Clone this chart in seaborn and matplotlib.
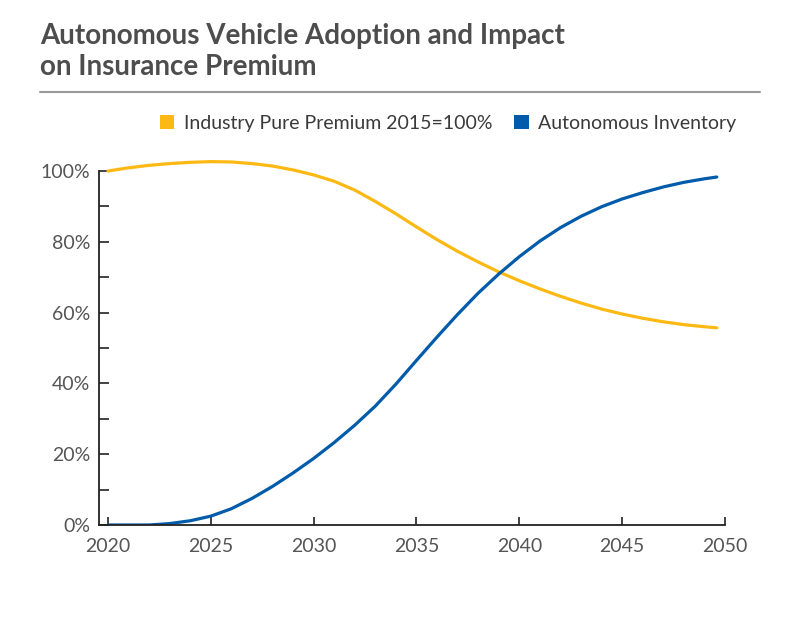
import pandas as pd
import matplotlib
matplotlib.use("Agg")
import matplotlib.pyplot as plt
import seaborn as sns
from matplotlib.patches import Patch
from matplotlib.lines import Line2D
from matplotlib.ticker import MultipleLocator, PercentFormatter

# values (percent)
years = [2020, 2021, 2022, 2023, 2024, 2025, 2026, 2027, 2028, 2029,
         2030, 2031, 2032, 2033, 2034, 2035, 2036, 2037, 2038, 2039,
         2040, 2041, 2042, 2043, 2044, 2045, 2046, 2047, 2048, 2049, 2049.6]
premium = [100.0, 100.9, 101.6, 102.1, 102.45, 102.65, 102.55, 102.1, 101.4, 100.3,
           98.9, 97.1, 94.6, 91.4, 87.9, 84.2, 80.6, 77.3, 74.3, 71.5,
           69.0, 66.7, 64.6, 62.7, 61.0, 59.6, 58.4, 57.4, 56.6, 56.0, 55.7]
autonomous = [0.0, 0.0, 0.0, 0.4, 1.2, 2.5, 4.6, 7.5, 10.9, 14.7,
              18.8, 23.3, 28.2, 33.6, 39.8, 46.5, 53.1, 59.5, 65.5, 70.9,
              75.8, 80.2, 84.0, 87.2, 89.9, 92.1, 93.9, 95.5, 96.8, 97.8, 98.3]
series = ["Industry Pure Premium 2015=100%", "Autonomous Inventory"]
colors = ["#FDB913", "#005BAA"]
title = "Autonomous Vehicle Adoption and Impact\non Insurance Premium"

df = pd.DataFrame({
    "Year": years + years,
    "Share": premium + autonomous,
    "Series": [series[0]] * len(years) + [series[1]] * len(years),
})

sns.set_theme(style="white")
plt.rcParams["font.family"] = ["Lato", "DejaVu Sans"]

fig = plt.figure(figsize=(8, 6.24), dpi=100)
ax = fig.add_axes([98.5 / 800, 99 / 624, 626.5 / 800, 371.7 / 624])

sns.lineplot(data=df, x="Year", y="Share", hue="Series", hue_order=series,
             palette=colors, linewidth=2.3, ax=ax, legend=False)

ax.set_xlim(2019.54, 2050)
ax.set_ylim(0, 105)
ax.set_xticks(range(2020, 2051, 5))
ax.yaxis.set_major_locator(MultipleLocator(20))
ax.yaxis.set_minor_locator(MultipleLocator(10))
ax.yaxis.set_major_formatter(PercentFormatter(100, decimals=0))
ax.set_yticks([v for v in range(0, 101, 20)])
ax.set_xlabel("")
ax.set_ylabel("")

for s in ["top", "right"]:
    ax.spines[s].set_visible(False)
for s in ["left", "bottom"]:
    ax.spines[s].set_color("#222222")
    ax.spines[s].set_linewidth(1.3)
ax.spines["left"].set_bounds(0, 100)

ax.tick_params(axis="y", which="both", direction="in", length=7.2, width=1.2,
               color="#222222", labelsize=14, labelcolor="#555555", pad=6, left=True)
ax.tick_params(axis="x", direction="in", length=6, width=1.2, color="#222222",
               labelsize=14, labelcolor="#555555", pad=9, bottom=True)

fig.text(40 / 800, 1 - 23 / 624, title, ha="left", va="top", fontsize=20,
         fontweight="bold", color="#4d4d4d", linespacing=1.25)
fig.add_artist(Line2D([40 / 800, 760 / 800], [1 - 92 / 624] * 2,
                      color="#9a9a9a", linewidth=1.5))

handles = [Patch(facecolor=c, edgecolor="none") for c in colors]
fig.legend(handles, series, loc="center right", bbox_to_anchor=(754 / 800, 1 - 123 / 624),
           ncol=2, frameon=False, fontsize=14, labelcolor="#3a3a3a",
           handlelength=0.75, handleheight=0.75, handletextpad=0.5, columnspacing=1.1)

fig.savefig("out.png", dpi=100)
